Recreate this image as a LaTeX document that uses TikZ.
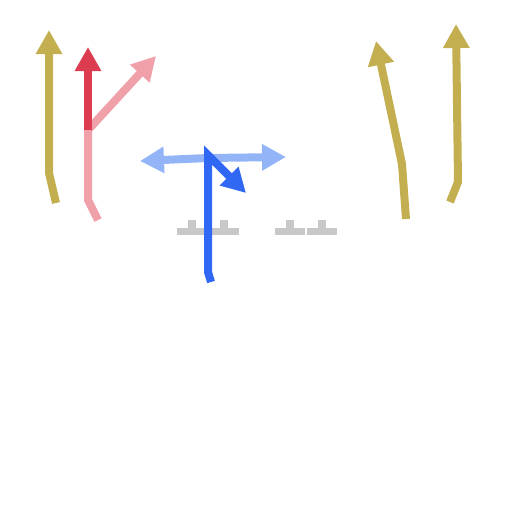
\documentclass[tikz,border=0pt]{standalone}
\usetikzlibrary{arrows.meta}
\definecolor{gold}{HTML}{C4AF50}
\definecolor{redl}{HTML}{DC3C50}
\definecolor{pinkl}{HTML}{F0A0A8}
\definecolor{lblue}{HTML}{94B4F8}
\definecolor{dblue}{HTML}{3068F4}
\definecolor{stopg}{HTML}{C8C8C8}
\tikzset{
  lane/.style={line width=8pt, line cap=butt, line join=miter, -{Triangle[length=24pt,width=25pt]}},
  stopbar/.style={fill=stopg, draw=none}
}
\begin{document}
\begin{tikzpicture}[x=1pt,y=-1pt]
\useasboundingbox (0,0) rectangle (512,512);
% coordinates
\coordinate (g1a) at (56,203); \coordinate (g1b) at (49,173); \coordinate (g1c) at (49,30);
\coordinate (p1) at (98,220); \coordinate (p2) at (88,200); \coordinate (p3) at (88,130);
\coordinate (r1) at (88,47);
\coordinate (pd) at (156,56);
\coordinate (lbl) at (140,161); \coordinate (lbm) at (208,158); \coordinate (lbr) at (286,157);
\coordinate (b1) at (211,282); \coordinate (b2) at (208,272); \coordinate (b3) at (208,155); \coordinate (b4) at (246,193);
\coordinate (g2a) at (406,219); \coordinate (g2b) at (402,164); \coordinate (g2c) at (376,41);
\coordinate (g3a) at (450,202); \coordinate (g3b) at (458,182); \coordinate (g3c) at (456,24);
% stop bars
\foreach \x in {177,209,275,307}{
  \path[stopbar] (\x,228) rectangle ++(30,7);
  \path[stopbar] (\x+11,220) rectangle ++(8,8);
}
% gold lanes
\draw[lane, draw=gold] (g1a) -- (g1b) -- (g1c);
\draw[lane, draw=gold] (g2a) -- (g2b) -- (g2c);
\draw[lane, draw=gold] (g3a) -- (g3b) -- (g3c);
% pink / red
\draw[lane, draw=pinkl] (p3) -- (pd);
\draw[line width=8pt, draw=pinkl, line join=miter] (p1) -- (p2) -- (p3);
\draw[lane, draw=redl] (p3) -- (r1);
% light blue
\draw[lane, draw=lblue] (lbm) -- (lbl);
\draw[lane, draw=lblue] (lbm) -- (lbr);
% dark blue
\draw[lane, draw=dblue] (b1) -- (b2) -- (b3) -- (b4);
\end{tikzpicture}
\end{document}
